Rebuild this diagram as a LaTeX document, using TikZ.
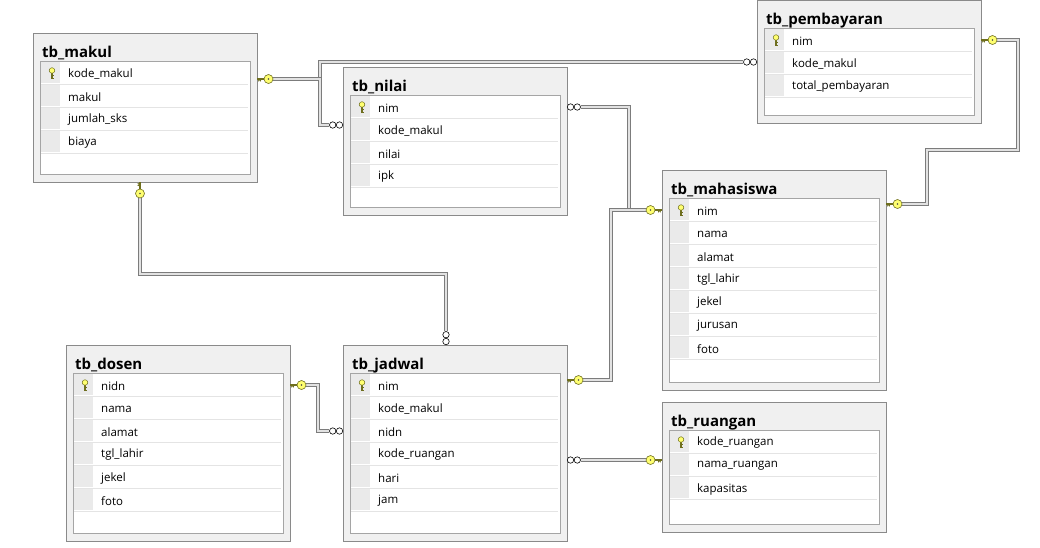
\documentclass[tikz,border=0pt]{standalone}
\usepackage{fontspec}
\setmainfont{Open Sans}

\definecolor{tblframe}{HTML}{8A8A8A}
\definecolor{tblback}{HTML}{F0F0F0}
\definecolor{innerframe}{HTML}{A5A5A5}
\definecolor{gutterfill}{HTML}{EAEAEA}
\definecolor{rowsep}{HTML}{E4E4E4}
\definecolor{keyyellow}{HTML}{FFFF70}
\definecolor{keyedge}{HTML}{6E6E1E}
\definecolor{relline}{HTML}{7C7C7C}
\definecolor{relcore}{HTML}{E2E2E2}

\tikzset{
  tblouter/.style={draw=tblframe, fill=tblback, line width=0.8pt, minimum width=224pt, inner sep=0pt, outer sep=0pt},
  tblinner/.style={draw=innerframe, fill=white, line width=0.7pt, minimum width=210pt, inner sep=0pt, outer sep=0pt},
  tbltitle/.style={font=\fontsize{15}{18}\selectfont\bfseries, inner sep=0pt},
  rowtext/.style={font=\fontsize{11.5}{14}\selectfont, inner sep=0pt},
  rel/.style={draw=relline, line width=0.9pt, double=relcore, double distance=1.6pt},
  % small key in the first column
  rowkey/.pic={
    \draw[keyedge, line width=1.1pt] (0,0) -- (0,5.5);
    \draw[keyedge, line width=0.8pt] (0,2.5) -- (2,2.5) (0,5) -- (2,5);
    \draw[draw=keyedge, fill=keyyellow, line width=0.5pt] (0,-2.5) circle (2.8pt);
  },
  % "one" end of a relation
  keyend/.pic={
    \draw[keyedge, line width=1.1pt] (0,0) -- (7.5,0);
    \draw[keyedge, line width=0.6pt] (1,0) -- (1.8,2) -- (2.6,0) -- (3.4,2) -- (4.2,0);
    \draw[draw=keyedge, fill=keyyellow, line width=0.6pt] (11.5,0) circle (4.5pt);
    \fill[black!70] (11.5,0) circle (0.8pt);
  },
  % "many" end of a relation
  manyend/.pic={
    \draw[black, fill=white, line width=0.6pt] (3.5,0) circle (3.2pt) (10.3,0) circle (3.2pt);
  }
}

% id, x, y, height, title, rows
\newcommand{\dbtable}[6]{%
  \node[tblouter, minimum height=#4, anchor=north west] (#1) at (#2,#3) {};
  \node[tbltitle, anchor=base west] (#1-t) at (#2+9,#3+24) {#5};
  \node[tblinner, minimum height=#4-36, anchor=north west] (#1-in) at (#2+7,#3+28) {};
  \foreach \txt [count=\i from 0] in {#6} {
    \fill[gutterfill] (#2+8,#3+29+23*\i) rectangle (#2+27,#3+50+23*\i);
    \draw[rowsep, line width=0.7pt] (#2+8,#3+51+23*\i) -- (#2+215,#3+51+23*\i);
    \node[rowtext, anchor=west] (#1-\i) at (#2+35,#3+41+23*\i) {\txt};
  }
  \pic at (#2+19,#3+40) {rowkey};
}

\begin{document}
\begin{tikzpicture}[x=1pt, y=-1pt]

  \fill[white] (0,0) rectangle (1040,547);
  \useasboundingbox (0,0) rectangle (1040,547);

  \dbtable{makul}{33}{33}{149}{tb\_makul}{kode\_makul, makul, jumlah\_sks, biaya}
  \dbtable{nilai}{343}{67}{148}{tb\_nilai}{nim, kode\_makul, nilai, ipk}
  \dbtable{bayar}{757}{0}{123}{tb\_pembayaran}{nim, kode\_makul, total\_pembayaran}
  \dbtable{mhs}{662}{170}{220}{tb\_mahasiswa}{nim, nama, alamat, tgl\_lahir, jekel, jurusan, foto}
  \dbtable{dosen}{66}{345}{196}{tb\_dosen}{nidn, nama, alamat, tgl\_lahir, jekel, foto}
  \dbtable{jadwal}{343}{345}{196}{tb\_jadwal}{nim, kode\_makul, nidn, kode\_ruangan, hari, jam}
  \dbtable{ruang}{662}{402}{130}{tb\_ruangan}{kode\_ruangan, nama\_ruangan, kapasitas}

  % free ends of the relations
  \coordinate (mkR) at (273,79);
  \coordinate (mkB) at (140,198);
  \coordinate (nlL) at (329,125);
  \coordinate (nlR) at (581,107);
  \coordinate (pbL) at (743,62);
  \coordinate (pbR) at (997,40);
  \coordinate (msL) at (646,210);
  \coordinate (msR) at (902,204);
  \coordinate (dsR) at (306,385);
  \coordinate (jdT) at (446,331);
  \coordinate (jdL) at (329,431);
  \coordinate (jdK) at (583,380);
  \coordinate (jdM) at (581,460);
  \coordinate (ruL) at (646,460);
  \coordinate (mkJ) at (320,79);

  \draw[rel] (mkR) -- (mkJ) |- (pbL);
  \draw[rel] (mkR) -- (mkJ) |- (nlL);
  \draw[rel] (mkB) -- ++(0,76) -| (jdT);
  \draw[rel] (nlR) -- ++(48,0) |- (msL);
  \draw[rel] (jdK) -- ++(28,0) |- (msL);
  \draw[rel] (pbR) -- ++(21,0) |- ++(-91,110) |- (msR);
  \draw[rel] (dsR) -- ++(12,0) |- (jdL);
  \draw[rel] (jdM) -- (ruL);

  % end marks
  \pic at (257,79) {keyend};
  \pic[rotate=-90] at (140,182) {keyend};
  \pic[xscale=-1] at (343,125) {manyend};
  \pic at (567,107) {manyend};
  \pic[xscale=-1] at (757,62) {manyend};
  \pic at (981,40) {keyend};
  \pic[xscale=-1] at (662,210) {keyend};
  \pic at (886,204) {keyend};
  \pic at (290,385) {keyend};
  \pic[rotate=90] at (446,345) {manyend};
  \pic[xscale=-1] at (343,431) {manyend};
  \pic at (567,380) {keyend};
  \pic at (567,460) {manyend};
  \pic[xscale=-1] at (662,460) {keyend};

\end{tikzpicture}
\end{document}
